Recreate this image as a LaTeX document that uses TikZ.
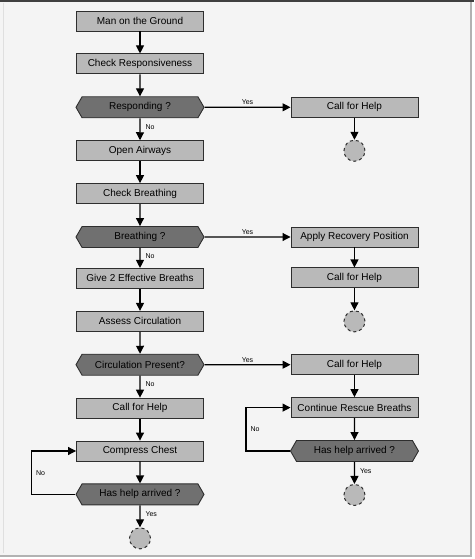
\documentclass[tikz,border=0pt]{standalone}
\usepackage{fontspec}
\setmainfont{Liberation Sans}
\usepackage{tikz}
\usetikzlibrary{arrows.meta, positioning, shapes.symbols}

\definecolor{pagebg}{HTML}{F4F4F4}
\definecolor{boxfill}{HTML}{B9B9B9}
\definecolor{decfill}{HTML}{707070}
\definecolor{edgecol}{HTML}{2E2E2E}

\begin{document}
\begin{tikzpicture}[x=1pt, y=-1pt, node distance=22pt and 86pt,
                box/.style={draw=edgecol, line width=0.9pt, fill=boxfill, align=center,
                    font=\fontsize{10}{12}\selectfont, minimum width=127pt, minimum height=20pt,
                    inner sep=0pt},
                decision/.style={signal, signal to=west and east, signal pointer angle=120,
                    draw=edgecol, line width=0.9pt, fill=decfill, font=\fontsize{10}{12}\selectfont,
                    minimum width=128pt, minimum height=21pt, inner xsep=0pt, inner ysep=0pt},
                endpt/.style={circle, draw=edgecol, dashed, line width=1pt, fill=boxfill,
                    minimum size=21pt, inner sep=0pt},
                lbl/.style={font=\fontsize{7}{8}\selectfont, inner sep=1pt},
                arr/.style={-{Triangle[length=8pt, width=8pt]}, line width=1.1pt}]
                % frame
                \useasboundingbox (0,0) rectangle (474,559);
                \fill[white] (0,0) rectangle (474,559);
                \fill[pagebg] (0,0) rectangle (471,556);
                \draw[gray!60, line width=1.5pt] (471,0) -- (471,556) -- (0,556);
                \fill[black!75] (0,0) rectangle (474,2.5);
                \draw[gray!25, line width=0.6pt] (3.5,3) -- (3.5,553);
                % left column
                \node[box] (man) at (140,21) {Man on the Ground};
                \node[box, below=of man] (chk) {Check Responsiveness};
                \node[decision, below=of chk] (resp) {Responding ?};
                \node[box, below=of resp] (open) {Open Airways};
                \node[box, below=of open] (chkb) {Check Breathing};
                \node[decision, below=of chkb] (brth) {Breathing ?};
                \node[box, below=20pt of brth] (give) {Give 2 Effective Breaths};
                \node[box, below=of give] (assess) {Assess Circulation};
                \node[decision, below=of assess] (circ) {Circulation Present?};
                \node[box, below=of circ] (cfh4) {Call for Help};
                \node[box, below=of cfh4] (comp) {Compress Chest};
                \node[decision, below=of comp] (arr1) {Has help arrived ?};
                \node[endpt, below=of arr1] (end4) {};
                % right column
                \node[box, right=of resp] (cfh1) {Call for Help};
                \node[endpt, below=of cfh1] (end1) {};
                \node[box, right=of brth] (rec) {Apply Recovery Position};
                \node[box, below=20pt of rec] (cfh2) {Call for Help};
                \node[endpt, below=of cfh2] (end2) {};
                \node[box, right=of circ] (cfh3) {Call for Help};
                \node[box, below=of cfh3] (cont) {Continue Rescue Breaths};
                \node[decision, below=of cont] (arr2) {Has help arrived ?};
                \node[endpt, below=of arr2] (end3) {};
                % connectors
                \draw[arr] (man) -- (chk);
                \draw[arr] (chk) -- (resp);
                \draw[arr] (resp) -- node[lbl, above=1pt]{Yes} (cfh1);
                \draw[arr] (resp) -- node[lbl, right=4pt, pos=0.4]{No} (open);
                \draw[arr] (cfh1) -- (end1);
                \draw[arr] (open) -- (chkb);
                \draw[arr] (chkb) -- (brth);
                \draw[arr] (brth) -- node[lbl, above=1pt]{Yes} (rec);
                \draw[arr] (brth) -- node[lbl, right=4pt, pos=0.4]{No} (give);
                \draw[arr] (rec) -- (cfh2);
                \draw[arr] (cfh2) -- (end2);
                \draw[arr] (give) -- (assess);
                \draw[arr] (assess) -- (circ);
                \draw[arr] (circ) -- node[lbl, above=1pt]{Yes} (cfh3);
                \draw[arr] (circ) -- node[lbl, right=4pt, pos=0.4]{No} (cfh4);
                \draw[arr] (cfh3) -- (cont);
                \draw[arr] (cont) -- (arr2);
                \draw[arr] (arr2) -- node[lbl, right=4pt, pos=0.4]{Yes} (end3);
                \draw[arr] (arr2.west) -- ++(-44,0) |- node[lbl, pos=0.25, right=3pt]{No} (cont.west);
                \draw[arr] (cfh4) -- (comp);
                \draw[arr] (comp) -- (arr1);
                \draw[arr] (arr1) -- node[lbl, right=4pt, pos=0.4]{Yes} (end4);
                \draw[arr] (arr1.west) -- ++(-44,0) |- node[lbl, pos=0.25, right=3pt]{No} (comp.west);
            \end{tikzpicture}
\end{document}
